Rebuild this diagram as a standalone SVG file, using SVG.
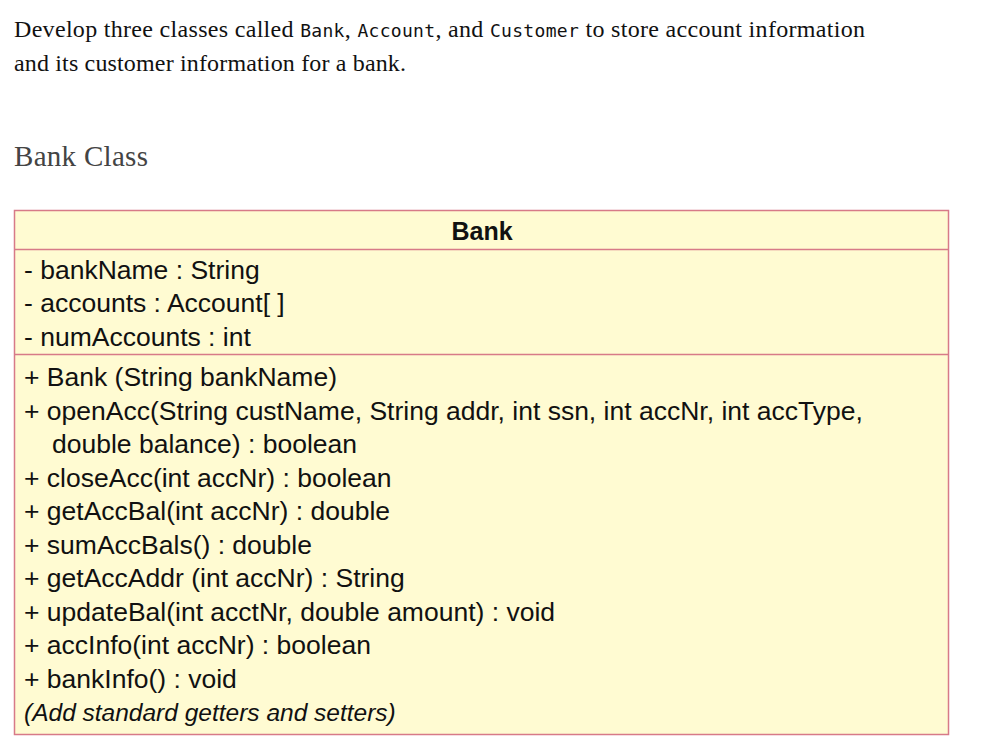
<svg xmlns="http://www.w3.org/2000/svg" width="997" height="745" viewBox="0 0 997 745">
<style>
.p{font-family:"Liberation Serif","DejaVu Serif",serif;font-size:24px;fill:#111}
.c{font-family:"DejaVu Sans Mono","Liberation Mono",monospace;font-size:18px;fill:#111}
.h{font-family:"Liberation Serif","DejaVu Serif",serif;font-size:29px;fill:#444}
.u{font-family:"Liberation Sans","DejaVu Sans",sans-serif;font-size:26.5px;fill:#111}
.i{font-family:"Liberation Sans","DejaVu Sans",sans-serif;font-size:24.5px;font-style:italic;fill:#111}
.b{font-family:"Liberation Sans","DejaVu Sans",sans-serif;font-size:25px;font-weight:bold;fill:#111}
.box{fill:#fffbd2;stroke:#d77a88;stroke-width:1.5}
.sep{stroke:#d77a88;stroke-width:1.5}
</style>
<rect width="997" height="745" fill="#fff"/>
<g id="intro">
<text class="p" x="14" y="37" textLength="851" lengthAdjust="spacing">Develop three classes called <tspan class="c">Bank</tspan>, <tspan class="c">Account</tspan>, and <tspan class="c">Customer</tspan> to store account information</text>
<text class="p" x="14" y="71" textLength="392" lengthAdjust="spacing">and its customer information for a bank.</text>
<text class="h" x="14" y="166" textLength="134" lengthAdjust="spacing">Bank Class</text>
</g>
<g id="bank-class">
<rect class="box" x="14.5" y="210.5" width="934" height="524"/>
<line class="sep" x1="14.5" y1="249.5" x2="948.5" y2="249.5"/>
<line class="sep" x1="14.5" y1="354.5" x2="948.5" y2="354.5"/>
<text class="b" x="482" y="240" text-anchor="middle">Bank</text>
<text class="u" x="24" y="279">- bankName :  String</text>
<text class="u" x="24" y="312">- accounts :  Account[ ]</text>
<text class="u" x="24" y="346">- numAccounts :  int</text>
<text class="u" x="24" y="386">+ Bank (String bankName)</text>
<text class="u" x="24" y="420">+ openAcc(String custName, String addr, int ssn, int accNr, int accType,</text>
<text class="u" x="52" y="453">double balance) :  boolean</text>
<text class="u" x="24" y="487">+ closeAcc(int accNr) :  boolean</text>
<text class="u" x="24" y="520">+ getAccBal(int accNr) :  double</text>
<text class="u" x="24" y="554">+ sumAccBals() :  double</text>
<text class="u" x="24" y="587">+ getAccAddr (int accNr) :  String</text>
<text class="u" x="24" y="621">+ updateBal(int acctNr, double amount) :  void</text>
<text class="u" x="24" y="654">+ accInfo(int accNr) :  boolean</text>
<text class="u" x="24" y="688">+ bankInfo() :  void</text>
<text class="i" x="24" y="721">(Add standard getters and setters)</text>
</g>
</svg>
